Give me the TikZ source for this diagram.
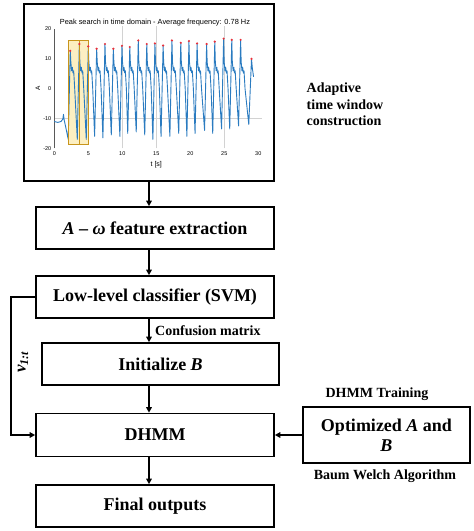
\documentclass[tikz,border=0pt]{standalone}
\usepackage{fontspec}
\setmainfont{Liberation Serif}
\setsansfont{Liberation Sans}
\usetikzlibrary{arrows.meta}
\definecolor{sig}{HTML}{2A7BC0}
\definecolor{winfill}{HTML}{FCEFC2}
\definecolor{winedge}{HTML}{C8951C}
\definecolor{peakc}{HTML}{E8303A}
\tikzset{
  flowbox/.style={draw, line width=1.6pt, minimum width=238pt, minimum height=42pt,
    inner sep=2pt, font=\fontsize{18}{20}\selectfont\bfseries},
  lbl/.style={font=\fontsize{14}{16.5}\selectfont\bfseries, inner sep=0pt},
  arr/.style={line width=1.5pt, -{Triangle[length=5.5pt,width=5.5pt]}},
  tick/.style={font=\sffamily\fontsize{5.5}{6}\selectfont, inner sep=0.5pt, text=black}
}
\begin{document}
\begin{tikzpicture}[x={(1pt,0pt)}, y={(0pt,-1pt)}]
\useasboundingbox (0,0) rectangle (474,531);

% ---------- plot box ----------
\node[draw, line width=2.2pt, minimum width=250pt, minimum height=177pt, inner sep=0pt] (plotbox) at (149,92.5) {};

\begin{scope}[shift={(54.3,88.7)}, x={(6.8pt,0pt)}, y={(0pt,2.98pt)}]
  % grid
  \draw[gray!35, line width=0.4pt] (10,-20) -- (10,21) (15,-20) -- (15,21) (25,-20) -- (25,21) (0,-10) -- (30.6,-10);
  % window fill
  \fill[winfill] (2.06,-18.6) rectangle (5.0,16.3);
  % axis
  \draw[black!65, line width=0.5pt] (0,-20) -- (0,20);
  \foreach \v in {20,10,0,-10,-20} \node[tick, anchor=east, name=yl\v] at (-0.35,\v) {\v};
  \foreach \v in {0,5,10,15,20,25,30} \node[tick, name=xl\v] at (\v,-21.9) {\v};
  \node[tick, rotate=90, font=\sffamily\fontsize{6.5}{7}\selectfont] (ylab) at (-2.4,0) {A};
  \node[tick, font=\sffamily\fontsize{7}{8}\selectfont] (xlab) at (15,-25.6) {t [s]};
  \node[tick, font=\sffamily\fontsize{7.4}{8}\selectfont] (ptitle) at (14.8,22.2) {Peak search in time domain - Average frequency: 0.78 Hz};
  % signal
  \draw[sig, line width=0.9pt, line join=round]
    (0,-11) -- (0.5,-11.3) -- (1.0,-11) -- (1.25,-10.2) -- (1.35,-8.6) -- (1.45,-10.5) -- (1.6,-12) -- (2.05,-17)
    \foreach \tp/\vp/\tq/\vq in {
      2.35/12.7/3.38/-17, 3.68/15/4.7/-17, 5.0/14.2/5.93/-16, 6.23/13.4/7.15/-16.5,
      7.45/15/8.38/-15.5, 8.68/13.4/9.65/-16, 9.95/14.4/10.8/-15, 11.1/14/12.05/-14.5,
      12.35/16.2/13.3/-15.5, 13.6/15/14.5/-17, 14.8/15.2/15.7/-16, 16.0/14.5/17.0/-16,
      17.3/16.2/18.3/-15, 18.6/15.4/19.5/-16, 19.8/16/20.7/-15, 21.0/15.2/22.1/-14,
      22.4/15/23.3/-15, 23.6/15.8/24.6/-13.5, 24.9/16.8/25.8/-13.5, 26.1/16.4/27.1/-12.5,
      27.4/16.4/28.6/-12}
    { -- (\tp,\vp) -- ({\tp+0.08},9) -- ({\tp+0.2},6) -- ({\tp+0.3},7.2) -- ({\tp+0.4},5.3)
      -- ({\tp+0.5},6) -- ({\tp+0.65},0) -- (\tq,\vq) }
    -- (29.0,10) -- (29.12,7) -- (29.3,4);
  % window edges
  \draw[winedge, line width=0.9pt] (2.06,-18.6) rectangle (3.68,16.3) (3.68,-18.6) rectangle (5.0,16.3);
  % peaks
  \foreach \tp/\vp in {2.35/12.7, 3.68/15, 5.0/14.2, 6.23/13.4, 7.45/15, 8.68/13.4, 9.95/14.4,
      11.1/14, 12.35/16.2, 13.6/15, 14.8/15.2, 16.0/14.5, 17.3/16.2, 18.6/15.4, 19.8/16,
      21.0/15.2, 22.4/15, 23.6/15.8, 24.9/16.8, 26.1/16.4, 27.4/16.4, 29.0/10}
    \fill[peakc] (\tp,\vp) circle (1.2pt);
\end{scope}

\node[lbl, anchor=west, align=left] (adapt) at (306.5,104.5) {Adaptive\\time window\\construction};

% ---------- flow boxes ----------
\node[flowbox] (feat) at (155,228) {{\itshape A} – {\itshape ω} feature extraction};
\node[flowbox] (svm) at (155,297) {Low-level classifier (SVM)};
\node[flowbox, minimum width=237pt] (initb) at (160.5,364) {Initialize {\itshape B}};
\node[flowbox, minimum height=43pt] (dhmm) at (155,435) {DHMM};
\node[flowbox] (final) at (155,506) {Final outputs};
\node[flowbox, minimum width=167pt, minimum height=56pt, align=center,
      font=\fontsize{18}{20}\selectfont\bfseries] (opt) at (386.5,435) {Optimized {\itshape A} and\\{\itshape B}};

\coordinate (ax) at (149,0);
\coordinate (lx) at (11,0);

\draw[arr] (plotbox.south -| ax) -- (feat.north -| ax);
\draw[arr] (feat.south -| ax) -- (svm.north -| ax);
\draw[arr] (svm.south -| ax) -- (initb.north -| ax);
\draw[arr] (initb.south -| ax) -- (dhmm.north -| ax);
\draw[arr] (dhmm.south -| ax) -- (final.north -| ax);
\draw[arr] (svm.west) -- (svm.west -| lx) -- (dhmm.west -| lx) -- (dhmm.west);
\draw[arr] (opt.west) -- (dhmm.east);

% ---------- labels ----------
\node[lbl, anchor=west] (conf) at (155,331) {Confusion matrix};
\node[lbl] (train) at (377,394) {DHMM Training};
\node[lbl] (baum) at (385,476) {Baum Welch Algorithm};
\node[rotate=90, inner sep=0pt, font=\fontsize{17}{18}\selectfont\bfseries\itshape] (vlab) at (23,362) {v\textsubscript{1:t}};
\end{tikzpicture}
\end{document}
